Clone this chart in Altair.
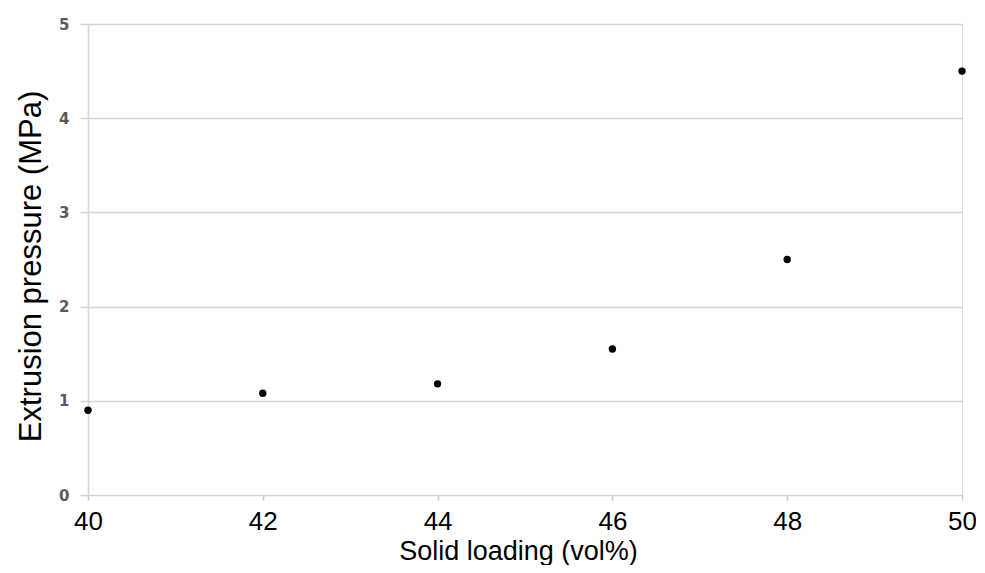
import altair as alt
import pandas as pd

solid_loading = [40, 42, 44, 46, 48, 50]
extrusion_pressure = [0.9, 1.08, 1.18, 1.55, 2.5, 4.5]
x_ticks = [40, 42, 44, 46, 48, 50]
y_ticks = [0, 1, 2, 3, 4, 5]

df = pd.DataFrame({"x": solid_loading, "y": extrusion_pressure})

chart = alt.Chart(df).mark_circle(color="black", opacity=1, size=55).encode(
    x=alt.X("x:Q", scale=alt.Scale(domain=[40, 50], nice=False, zero=False),
            axis=alt.Axis(values=x_ticks, title="Solid loading (vol%)", grid=False, domain=False,
                          tickSize=5, tickColor="#c8c8c8", tickWidth=1.5, labelFlush=False,
                          labelFont="Liberation Sans", labelFontSize=26, labelColor="black",
                          labelPadding=8,
                          titleFont="Liberation Sans", titleFontSize=27, titleFontWeight="normal",
                          titleColor="black", titleX=430, titleY=43, titleBaseline="top",
                          titleAlign="center")),
    y=alt.Y("y:Q", scale=alt.Scale(domain=[0, 5], nice=False),
            axis=alt.Axis(values=y_ticks, title="Extrusion pressure (MPa)", grid=True,
                          gridColor="#d4d4d4", gridWidth=1.5, domain=True, domainColor="#d4d4d4",
                          domainWidth=1.5, tickSize=8, tickColor="#d4d4d4", tickWidth=1.5,
                          labelFont="DejaVu Sans", labelFontSize=15, labelColor="#5a5a5a",
                          labelFontWeight="bold", labelPadding=11, labelFlush=False,
                          titleFont="Liberation Sans", titleFontSize=31, titleFontWeight="normal",
                          titleColor="black", titleAngle=270, titleBaseline="top",
                          titleAlign="center", titleX=-72, titleY=242)),
).properties(
    width=874, height=471,
    autosize=alt.AutoSizeParams(type="none"),
    padding={"left": 80, "top": 16, "right": 14, "bottom": 70},
).configure_view(stroke=None).configure(background="white")

chart.save("out.html", embed_options={"renderer": "svg", "actions": False})
